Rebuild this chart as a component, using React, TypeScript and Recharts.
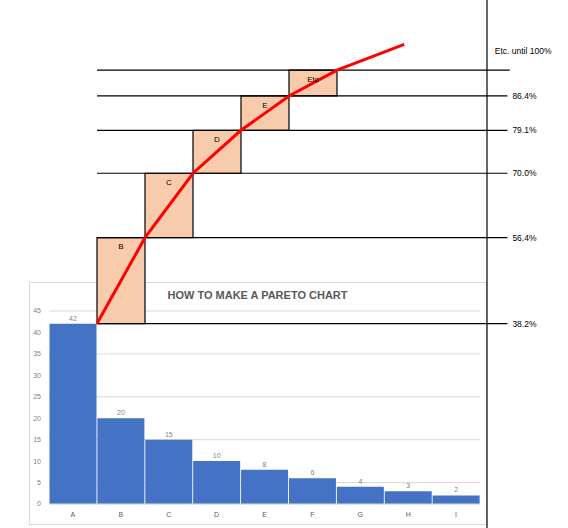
import {
  BarChart,
  Bar,
  XAxis,
  YAxis,
  CartesianGrid,
  LabelList,
  ComposedChart,
  Line,
  ReferenceArea,
  ReferenceLine,
} from "recharts"

const categories = ["A", "B", "C", "D", "E", "F", "G", "H", "I"]
const counts = [42, 20, 15, 10, 8, 6, 4, 3, 2]
const yTicks = [0, 5, 10, 15, 20, 25, 30, 35, 40, 45]

// boxes stacked on top of bar A, one per following bar
const boxLabels = ["B", "C", "D", "E", "Etc"]

// red curve: x = bar boundary (0 = left edge of A), y = cumulative count
const curveX = [1, 2, 3, 4, 5, 6, 7.4]
const curveY = [42, 62, 77, 87, 95, 101, 107]

const total = counts.reduce((a, b) => a + b, 0)
const cumulative = counts.map((_, i) => counts.slice(0, i + 1).reduce((a, b) => a + b, 0))

const barData = categories.map((c, i) => ({ name: c, value: counts[i] }))
const curveData = curveX.map((x, i) => ({ x, y: curveY[i] }))

const PX_PER_UNIT = 193.3 / 45
const PLOT_BOTTOM = 504
const Y_MAX = PLOT_BOTTOM / PX_PER_UNIT
const X_MAX = 519 / 48
const LINE_END = 9.55
const VLINE_X = (487 - 49) / 48

const FONT = "'Liberation Sans', Arial, sans-serif"

function EtcLabel(props: any) {
  const vb = props.viewBox || {}
  return (
    <text x={vb.x + vb.width - 15} y={vb.y - 16} fontSize={8.5} fill="#000" fontFamily={FONT}>
      Etc. until 100%
    </text>
  )
}

export default function App() {
  return (
    <div style={{ position: "absolute", left: 0, top: 0, width: 568, height: 528, background: "#fff", fontFamily: FONT }}>
      <div
        style={{
          position: "absolute",
          left: 29,
          top: 282,
          width: 458,
          height: 243,
          border: "1px solid #d9d9d9",
          boxSizing: "border-box",
          background: "#fff",
        }}
      >
        <BarChart
          width={456}
          height={241}
          data={barData}
          margin={{ top: 28, right: 6, bottom: 0, left: 0 }}
          barCategoryGap={0.5}
        >
          <CartesianGrid vertical={false} stroke="#d9d9d9" />
          <XAxis
            dataKey="name"
            height={20}
            tickLine={false}
            axisLine={{ stroke: "#d9d9d9" }}
            tick={{ fontSize: 7, fill: "#595959" }}
          />
          <YAxis
            width={19}
            domain={[0, 45]}
            ticks={yTicks}
            tickLine={false}
            axisLine={false}
            tick={{ fontSize: 7, fill: "#7f7f7f" }}
          />
          <Bar dataKey="value" fill="#4472C4" isAnimationActive={false}>
            <LabelList dataKey="value" position="top" offset={3} style={{ fontSize: 7, fill: "#7f7f7f" }} />
          </Bar>
        </BarChart>
      </div>

      <div
        style={{
          position: "absolute",
          left: 0,
          width: 515,
          top: 287,
          textAlign: "center",
          fontSize: 11,
          fontWeight: "bold",
          color: "#595959",
          lineHeight: "16px",
        }}
      >
        HOW TO MAKE A PARETO CHART
      </div>

      <div style={{ position: "absolute", left: 0, top: 0 }}>
        <ComposedChart width={568} height={528} data={curveData} margin={{ top: 0, right: 0, bottom: 24, left: 49 }}>
          <XAxis type="number" dataKey="x" domain={[0, X_MAX]} allowDataOverflow hide />
          <YAxis type="number" domain={[0, Y_MAX]} allowDataOverflow hide />
          {boxLabels.map((lbl, k) => (
            <ReferenceArea
              key={lbl}
              x1={k + 1}
              x2={k + 2}
              y1={cumulative[k]}
              y2={cumulative[k + 1]}
              fill="#F8CBAD"
              fillOpacity={1}
              stroke="#000"
              strokeWidth={1.2}
              ifOverflow="visible"
              label={{ value: lbl, position: "insideTop", offset: 6, fontSize: 8, fill: "#000" }}
            />
          ))}
          {cumulative.slice(0, 5).map((c) => (
            <ReferenceLine
              key={c}
              segment={[
                { x: 1, y: c },
                { x: LINE_END, y: c },
              ]}
              stroke="#000"
              strokeWidth={1.2}
              ifOverflow="visible"
              label={{
                value: `${((c / total) * 100).toFixed(1)}%`,
                position: "right",
                offset: 5,
                fontSize: 8.5,
                fill: "#000",
              }}
            />
          ))}
          <ReferenceLine
            segment={[
              { x: 1, y: cumulative[5] },
              { x: LINE_END + 0.05, y: cumulative[5] },
            ]}
            stroke="#000"
            strokeWidth={1.2}
            ifOverflow="visible"
            label={EtcLabel}
          />
          <ReferenceLine
            segment={[
              { x: VLINE_X, y: -24 / PX_PER_UNIT },
              { x: VLINE_X, y: Y_MAX },
            ]}
            stroke="#000"
            strokeWidth={1.2}
            ifOverflow="visible"
          />
          <Line
            type="linear"
            dataKey="y"
            stroke="#FF0000"
            strokeWidth={3}
            dot={false}
            isAnimationActive={false}
          />
        </ComposedChart>
      </div>
    </div>
  )
}
